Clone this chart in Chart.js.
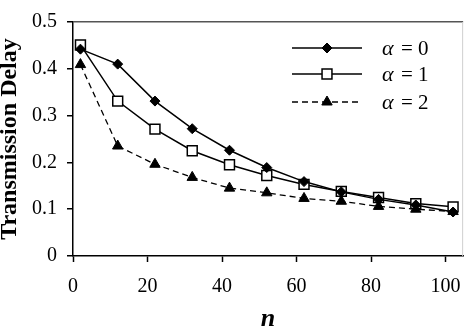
<!DOCTYPE html>
<html>
<head>
<meta charset="utf-8">
<script src="https://cdn.jsdelivr.net/npm/chart.js@4/dist/chart.umd.min.js"></script>
<style>
  body { margin: 0; background: #fff; }
  #wrap { width: 474px; height: 327px; }
</style>
</head>
<body>
<div id="wrap"><canvas id="chart" width="474" height="327"></canvas></div>
<script>
// data
var nValues = [2, 12, 22, 32, 42, 52, 62, 72, 82, 92, 102];
var alpha0 = [0.442, 0.410, 0.331, 0.272, 0.226, 0.189, 0.159, 0.137, 0.121, 0.109, 0.094];
var alpha1 = [0.451, 0.331, 0.271, 0.225, 0.195, 0.172, 0.153, 0.138, 0.125, 0.112, 0.105];
var alpha2 = [0.409, 0.235, 0.196, 0.168, 0.145, 0.135, 0.123, 0.117, 0.106, 0.100, 0.095];
var seriesNames = ['0', '1', '2'];
var xTicks = [0, 20, 40, 60, 80, 100];
var yTicks = [0, 0.1, 0.2, 0.3, 0.4, 0.5];

function pts(ys) {
  return nValues.map(function(x, i) { return {x: x, y: ys[i]} })
}

var serif = "'Liberation Serif', 'Times New Roman', serif";

// legend drawn in the figure's own style (line with marker in the middle)
var legendPlugin = {
  id: 'figLegend',
  afterDraw: function(chart) {
    var c = chart.ctx;
    var a = chart.chartArea;
    c.save();
    // light frame edge on the right
    c.strokeStyle = '#cfcfcf';
    c.lineWidth = 1;
    c.beginPath();
    c.moveTo(a.right - 0.5, a.top);
    c.lineTo(a.right - 0.5, a.bottom);
    c.stroke();

    var rows = [48, 74, 102];
    chart.data.datasets.forEach(function(ds, i) {
      var y = rows[i];
      c.strokeStyle = '#000';
      c.lineWidth = ds.borderWidth;
      c.setLineDash(ds.borderDash || []);
      c.beginPath();
      c.moveTo(292, y);
      c.lineTo(362, y);
      c.stroke();
      c.setLineDash([]);
      c.fillStyle = ds.pointBackgroundColor;
      c.strokeStyle = ds.pointBorderColor;
      c.lineWidth = ds.pointBorderWidth;
      Chart.helpers.drawPoint(c, {
        pointStyle: ds.pointStyle,
        radius: ds.pointRadius,
        borderWidth: ds.pointBorderWidth
      }, 327, y);
      c.font = "italic 22px " + serif;
      c.fillStyle = '#000';
      c.textBaseline = 'middle';
      c.textAlign = 'left';
      c.fillText('\u03b1', 382, y + 1);
      c.font = "21px " + serif;
      c.fillText('= ' + seriesNames[i], 401, y + 1);
    });
    c.restore();
  }
};

var ctx = document.getElementById('chart').getContext('2d');
var chart = new Chart(ctx, {
  type: 'scatter',
  data: {
    datasets: [{
      label: 'α = 0',
      data: pts(alpha0),
      showLine: true,
      borderColor: '#000',
      backgroundColor: '#000',
      borderWidth: 1.5,
      pointStyle: 'rectRot',
      pointRadius: 5,
      pointBorderWidth: 1,
      pointBackgroundColor: '#000',
      pointBorderColor: '#000'
    }, {
      label: 'α = 1',
      data: pts(alpha1),
      showLine: true,
      borderColor: '#000',
      backgroundColor: '#fff',
      borderWidth: 1.5,
      pointStyle: 'rect',
      pointRadius: 7,
      pointBorderWidth: 1.5,
      pointBackgroundColor: '#fff',
      pointBorderColor: '#000'
    }, {
      label: 'α = 2',
      data: pts(alpha2),
      showLine: true,
      borderColor: '#000',
      backgroundColor: '#000',
      borderWidth: 1.3,
      borderDash: [6, 4],
      pointStyle: 'triangle',
      pointRadius: 6,
      pointBorderWidth: 1,
      pointBackgroundColor: '#000',
      pointBorderColor: '#000'
    }]
  },
  options: {
    responsive: false,
    animation: false,
    layout: { padding: { top: 6, right: 1, left: 0, bottom: 0 } },
    plugins: {
      legend: { display: false },
      tooltip: { enabled: false }
    },
    scales: {
      x: {
        type: 'linear',
        min: 0,
        max: 104.7,
        afterBuildTicks: function(scale) {
          scale.ticks = xTicks.map(function(v) { return {value: v} })
        },
        afterFit: function(scale) { scale.height = 71 },
        ticks: {
          color: '#000',
          padding: 13,
          maxRotation: 0,
          font: { family: serif, size: 20 }
        },
        grid: {
          drawOnChartArea: false,
          tickLength: 6,
          tickColor: '#000',
          tickWidth: 1.5
        },
        border: { color: '#000', width: 1.5 },
        title: {
          display: true,
          text: 'n',
          color: '#000',
          font: { family: serif, size: 26, style: 'italic', weight: 'bold', lineHeight: 1 },
          padding: { top: 0, bottom: -5 }
        }
      },
      y: {
        min: 0,
        max: 0.5,
        afterBuildTicks: function(scale) {
          scale.ticks = yTicks.map(function(v) { return {value: v} })
        },
        afterFit: function(scale) { scale.width = 73 },
        ticks: {
          color: '#000',
          padding: 10,
          font: { family: serif, size: 20 },
          callback: function(v) { return String(Math.round(v * 10) / 10) }
        },
        grid: {
          drawOnChartArea: true,
          color: function(c) { return c.tick && c.tick.value === 0.5 ? '#555' : 'rgba(0,0,0,0)' },
          lineWidth: 1.5,
          tickLength: 6,
          tickColor: '#000',
          tickWidth: 1.5
        },
        border: { color: '#000', width: 1.5 },
        title: {
          display: true,
          text: 'Transmission Delay',
          color: '#000',
          font: { family: serif, size: 24, weight: 'bold', lineHeight: 1 },
          padding: { top: -2, bottom: 0 }
        }
      }
    }
  },
  plugins: [legendPlugin]
});
</script>
</body>
</html>
